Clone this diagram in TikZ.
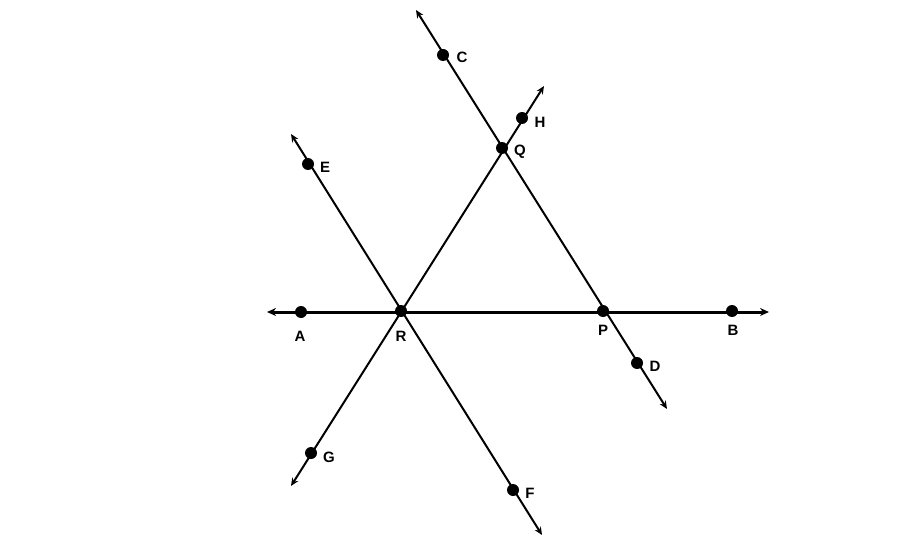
\documentclass[tikz,border=0pt]{standalone}
\usepackage{fontspec}
\setmainfont{Liberation Sans}
\usetikzlibrary{arrows.meta}
\begin{document}
\begin{tikzpicture}[x=1pt,y=-1pt,
  dot/.style={circle,fill=black,inner sep=0pt,minimum size=12pt},
  lab/.style={inner sep=0pt,font=\fontsize{15}{17}\selectfont\bfseries},
  ray/.style={line width=2pt,{Stealth[length=8pt,width=7pt]}-{Stealth[length=8pt,width=7pt]}},
  thickray/.style={line width=3pt,{Stealth[length=9pt,width=8pt]}-{Stealth[length=9pt,width=8pt]}}]
\useasboundingbox (0,0) rectangle (917,548);
% arrow ends
\coordinate (ABl) at (267,312);
\coordinate (ABr) at (769,312);
\coordinate (CDt) at (416,10);
\coordinate (CDb) at (667,409);
\coordinate (GHt) at (544,86);
\coordinate (GHb) at (291,486);
\coordinate (EFt) at (291,134);
\coordinate (EFb) at (542,535);
% lines
\draw[thickray] (ABl) -- (ABr);
\draw[ray] (CDt) -- (CDb);
\draw[ray] (GHb) -- (GHt);
\draw[ray] (EFt) -- (EFb);
% points
\node[dot] (A) at (301,312) {};
\node[dot] (R) at (401,311) {};
\node[dot] (P) at (603,311) {};
\node[dot] (B) at (732,311) {};
\node[dot] (C) at (443,55) {};
\node[dot] (Q) at (502,148) {};
\node[dot] (H) at (522,118) {};
\node[dot] (D) at (637,363) {};
\node[dot] (G) at (311,453) {};
\node[dot] (E) at (308,164) {};
\node[dot] (F) at (513,490) {};
% labels
\node[lab] (lA) at (300,336) {A};
\node[lab] (lR) at (401,336) {R};
\node[lab] (lP) at (603,330) {P};
\node[lab] (lB) at (733,330) {B};
\node[lab] (lC) at (462,57) {C};
\node[lab] (lH) at (540,122) {H};
\node[lab] (lQ) at (520,152) {Q};
\node[lab] (lD) at (655,366) {D};
\node[lab] (lG) at (329,457) {G};
\node[lab] (lF) at (530,493) {F};
\node[lab] (lE) at (325,167) {E};
\end{tikzpicture}
\end{document}
